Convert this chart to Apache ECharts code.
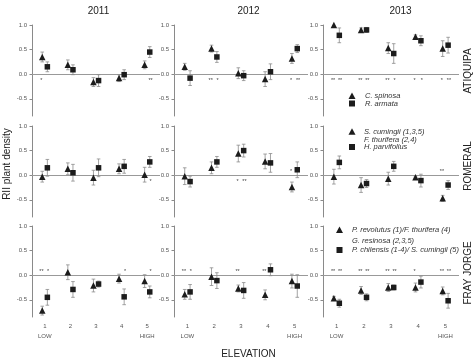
<!DOCTYPE html>
<html><head><meta charset="utf-8">
<script src="https://cdn.jsdelivr.net/npm/echarts@6/dist/echarts.min.js"></script>
<style>html,body{margin:0;padding:0;background:#fff}#c{width:474px;height:361px}</style>
</head><body><div id="c"></div>
<script>
// ---------- data ----------
const elevations = [1, 2, 3, 4, 5];
const years = ['2011', '2012', '2013'];
const sites = ['ATIQUIPA', 'ROMERAL', 'FRAY JORGE'];
const yTicks = [-0.5, 0, 0.5, 1.0];

// Atiquipa
const atq2011Tri = [0.35, 0.19, -0.16, -0.08, 0.19];
const atq2011TriErr = [0.10, 0.10, 0.09, 0.07, 0.08];
const atq2011Sq = [0.15, 0.09, -0.13, -0.01, 0.45];
const atq2011SqErr = [0.10, 0.10, 0.12, 0.10, 0.11];
const atq2011TriSig = ['*', '', '', '', ''];
const atq2011SqSig = ['', '', '', '', '**'];

const atq2012Tri = [0.15, 0.52, 0.02, -0.10, 0.32];
const atq2012TriErr = [0.07, 0.07, 0.11, 0.15, 0.10];
const atq2012Sq = [-0.08, 0.35, -0.03, 0.05, 0.52];
const atq2012SqErr = [0.15, 0.11, 0.10, 0.16, 0.08];
const atq2012TriSig = ['', '**', '', '', '*'];
const atq2012SqSig = ['', '*', '', '', '**'];

const atq2013Tri = [1.0, 0.90, 0.53, 0.76, 0.52];
const atq2013TriErr = [0.0, 0.04, 0.11, 0.04, 0.16];
const atq2013Sq = [0.79, 0.90, 0.42, 0.68, 0.59];
const atq2013SqErr = [0.15, 0.05, 0.20, 0.10, 0.16];
const atq2013TriSig = ['**', '**', '**', '*', '*'];
const atq2013SqSig = ['**', '**', '*', '*', '**'];

// Romeral
const rom2011Tri = [-0.03, 0.13, -0.05, 0.13, 0.01];
const rom2011TriErr = [0.11, 0.12, 0.15, 0.10, 0.15];
const rom2011Sq = [0.15, 0.05, 0.15, 0.18, 0.27];
const rom2011SqErr = [0.17, 0.17, 0.18, 0.14, 0.11];
const rom2011TriSig = ['', '', '', '', ''];
const rom2011SqSig = ['', '', '', '', '*'];

const rom2012Tri = [-0.02, 0.15, 0.44, 0.28, -0.24];
const rom2012TriErr = [0.17, 0.12, 0.17, 0.15, 0.10];
const rom2012Sq = [-0.13, 0.27, 0.50, 0.25, 0.11];
const rom2012SqErr = [0.11, 0.11, 0.13, 0.19, 0.16];
const rom2012TriSig = ['', '', '*', '', '*'];
const rom2012SqSig = ['', '', '**', '', ''];

const rom2013Tri = [-0.03, -0.20, -0.07, -0.04, -0.47];
const rom2013TriErr = [0.15, 0.15, 0.13, 0.02, 0.06];
const rom2013Sq = [0.26, -0.17, 0.18, -0.11, -0.20];
const rom2013SqErr = [0.13, 0.08, 0.10, 0.13, 0.09];
const rom2013TriSig = ['', '', '', '', '**'];
const rom2013SqSig = ['', '', '', '', ''];

// Fray Jorge
const fj2011Tri = [-0.72, 0.06, -0.21, -0.07, -0.12];
const fj2011TriErr = [0.09, 0.15, 0.13, 0.09, 0.13];
const fj2011Sq = [-0.45, -0.29, -0.18, -0.44, -0.34];
const fj2011SqErr = [0.16, 0.16, 0.06, 0.16, 0.12];
const fj2011TriSig = ['**', '', '', '', ''];
const fj2011SqSig = ['*', '', '', '*', '*'];

const fj2012Tri = [-0.39, -0.03, -0.27, -0.40, -0.12];
const fj2012TriErr = [0.10, 0.18, 0.07, 0.10, 0.14];
const fj2012Sq = [-0.34, -0.11, -0.31, 0.11, -0.22];
const fj2012SqErr = [0.15, 0.16, 0.16, 0.12, 0.23];
const fj2012TriSig = ['**', '', '**', '**', ''];
const fj2012SqSig = ['*', '', '', '', ''];

const fj2013Tri = [-0.47, -0.31, -0.25, -0.25, -0.32];
const fj2013TriErr = [0.04, 0.08, 0.08, 0.09, 0.08];
const fj2013Sq = [-0.57, -0.45, -0.25, -0.14, -0.52];
const fj2013SqErr = [0.08, 0.07, 0.05, 0.12, 0.15];
const fj2013TriSig = ['**', '**', '**', '*', '**'];
const fj2013SqSig = ['**', '**', '**', '', '**'];

const legendAtiquipa = [['tri', 'C. spinosa'], ['sq', 'R. armata']];
const legendRomeral = [['tri', 'S. cumingii (1,3,5)'], ['', 'F. thurifera (2,4)'], ['sq', 'H. parvifolius']];
const legendFray = [['tri', 'P. revolutus (1)/F. thurifera (4)'], ['', 'G. resinosa (2,3,5)'], ['sq', 'P. chilensis (1-4)/ S. cumingii (5)']];

// ---------- layout ----------
const panels = [
  [atq2011Tri, atq2011TriErr, atq2011Sq, atq2011SqErr, atq2011TriSig, atq2011SqSig],
  [atq2012Tri, atq2012TriErr, atq2012Sq, atq2012SqErr, atq2012TriSig, atq2012SqSig],
  [atq2013Tri, atq2013TriErr, atq2013Sq, atq2013SqErr, atq2013TriSig, atq2013SqSig],
  [rom2011Tri, rom2011TriErr, rom2011Sq, rom2011SqErr, rom2011TriSig, rom2011SqSig],
  [rom2012Tri, rom2012TriErr, rom2012Sq, rom2012SqErr, rom2012TriSig, rom2012SqSig],
  [rom2013Tri, rom2013TriErr, rom2013Sq, rom2013SqErr, rom2013TriSig, rom2013SqSig],
  [fj2011Tri, fj2011TriErr, fj2011Sq, fj2011SqErr, fj2011TriSig, fj2011SqSig],
  [fj2012Tri, fj2012TriErr, fj2012Sq, fj2012SqErr, fj2012TriSig, fj2012SqSig],
  [fj2013Tri, fj2013TriErr, fj2013Sq, fj2013SqErr, fj2013TriSig, fj2013SqSig]
];
const colLeft = [32, 174, 323];
const colWidth = [128, 134, 136];
const rowTop = [25, 126, 226];
const rowHeight = 91;
const OFF = 0.1;
const FONT = 'Liberation Sans';
const markColor = '#1c1c1c';
const errColor = '#8c8c8c';

const grids = [], xAxes = [], yAxes = [], series = [];

function errRender(params, api) {
  const x = api.value(0), y = api.value(1), e = api.value(2);
  if (!e) return null;
  const t = api.coord([x, y + e]), b = api.coord([x, y - e]);
  const cw = 1.8;
  const style = { stroke: errColor, lineWidth: 0.8, fill: null };
  return { type: 'group', children: [
    { type: 'line', shape: { x1: t[0], y1: t[1], x2: b[0], y2: b[1] }, style },
    { type: 'line', shape: { x1: t[0] - cw, y1: t[1], x2: t[0] + cw, y2: t[1] }, style },
    { type: 'line', shape: { x1: b[0] - cw, y1: b[1], x2: b[0] + cw, y2: b[1] }, style }
  ]};
}
function sigRenderFactory(texts, dx) {
  return function (params, api) {
    const txt = texts[params.dataIndex];
    if (!txt) return null;
    const x = api.value(0), v = api.value(1);
    const p = api.coord([x, v < 0 ? 0.1 : -0.1]);
    return { type: 'text', x: p[0] + dx, y: p[1] + 1.5,
      style: { text: txt, fontSize: 5.5, fontFamily: FONT, fill: '#444', align: 'center', verticalAlign: 'middle' } };
  };
}

panels.forEach((pd, i) => {
  const r = Math.floor(i / 3), c = i % 3;
  const [tri, triErr, sq, sqErr, triSig, sqSig] = pd;
  grids.push({ left: colLeft[c], top: rowTop[r], width: colWidth[c], height: rowHeight });
  xAxes.push({
    type: 'value', gridIndex: i, min: 0.5, max: 5.5,
    axisLine: { show: false }, axisTick: { show: false, customValues: elevations },
    splitLine: { show: false },
    axisLabel: {
      show: r === 2, customValues: elevations, fontSize: 6, fontFamily: FONT, color: '#555',
      margin: 4, lineHeight: 10,
      formatter: v => v === 1 ? '1\nLOW' : (v === 5 ? '5\nHIGH' : String(v))
    }
  });
  yAxes.push({
    type: 'value', gridIndex: i, min: -0.85, max: 1.0,
    axisLine: { show: true, lineStyle: { color: '#8a8a8a', width: 1 } },
    axisTick: { show: true, length: 2.5, customValues: yTicks, lineStyle: { color: '#8a8a8a' } },
    splitLine: { show: false },
    axisLabel: { customValues: yTicks, fontSize: 6, fontFamily: FONT, color: '#555', margin: 5,
      formatter: v => v.toFixed(1) }
  });
  const triPts = elevations.map((e, k) => [e - OFF, tri[k], triErr[k]]);
  const sqPts = elevations.map((e, k) => [e + OFF, sq[k], sqErr[k]]);
  series.push({ type: 'custom', xAxisIndex: i, yAxisIndex: i, renderItem: errRender,
    encode: { x: 0, y: 1 }, data: triPts, z: 2, silent: true, clip: false });
  series.push({ type: 'custom', xAxisIndex: i, yAxisIndex: i, renderItem: errRender,
    encode: { x: 0, y: 1 }, data: sqPts, z: 2, silent: true, clip: false });
  series.push({ type: 'scatter', xAxisIndex: i, yAxisIndex: i, symbol: 'triangle', symbolSize: 6.5,
    itemStyle: { color: markColor, opacity: 1 }, data: triPts.map(p => [p[0], p[1]]), z: 4, silent: true,
    markLine: { silent: true, symbol: 'none', label: { show: false },
      lineStyle: { color: '#999', width: 1, type: 'solid' }, data: [{ yAxis: 0 }], z: 1 } });
  series.push({ type: 'scatter', xAxisIndex: i, yAxisIndex: i, symbol: 'rect', symbolSize: 5.5,
    itemStyle: { color: markColor, opacity: 1 }, data: sqPts.map(p => [p[0], p[1]]), z: 4, silent: true });
  series.push({ type: 'custom', xAxisIndex: i, yAxisIndex: i, renderItem: sigRenderFactory(triSig, -0.8),
    encode: { x: 0, y: 1 }, data: triPts.map(p => [p[0], p[1]]), z: 3, silent: true, clip: false });
  series.push({ type: 'custom', xAxisIndex: i, yAxisIndex: i, renderItem: sigRenderFactory(sqSig, 0.8),
    encode: { x: 0, y: 1 }, data: sqPts.map(p => [p[0], p[1]]), z: 3, silent: true, clip: false });
});

// ---------- text & legends ----------
const graphic = [];
const yearX = [98.5, 248.5, 400.5];
years.forEach((y, k) => graphic.push({ type: 'text', x: yearX[k], y: 11,
  style: { text: y, fontSize: 10, fontFamily: FONT, fill: '#222', align: 'center', verticalAlign: 'middle' } }));
const siteY = [71, 166, 273];
sites.forEach((s, k) => graphic.push({ type: 'text', x: 468, y: siteY[k], rotation: Math.PI / 2,
  style: { text: s, fontSize: 10, fontFamily: FONT, fill: '#222', align: 'center', verticalAlign: 'middle' } }));
graphic.push({ type: 'text', x: 7, y: 164, rotation: Math.PI / 2,
  style: { text: 'RII plant density', fontSize: 10, fontFamily: FONT, fill: '#222', align: 'center', verticalAlign: 'middle' } });
graphic.push({ type: 'text', x: 248.5, y: 354,
  style: { text: 'ELEVATION', fontSize: 10, fontFamily: FONT, fill: '#222', align: 'center', verticalAlign: 'middle' } });

function addLegend(items, mx, tx, ys) {
  items.forEach((it, k) => {
    const y = ys[k];
    if (it[0] === 'tri') graphic.push({ type: 'polygon', shape: { points: [[mx, y - 3.5], [mx - 3.5, y + 3], [mx + 3.5, y + 3]] }, style: { fill: markColor } });
    if (it[0] === 'sq') graphic.push({ type: 'rect', shape: { x: mx - 3, y: y - 3, width: 6, height: 6 }, style: { fill: markColor } });
    graphic.push({ type: 'text', x: tx, y: y, style: { text: it[1], fontSize: 7.5, fontStyle: 'italic', fontFamily: FONT, fill: '#333', align: 'left', verticalAlign: 'middle' } });
  });
}
addLegend(legendAtiquipa, 352, 365, [96, 103.5]);
addLegend(legendRomeral, 352, 364, [131.7, 139.5, 147]);
addLegend(legendFray, 339.5, 352, [230, 240.5, 250]);

const chart = echarts.init(document.getElementById('c'), null, { renderer: 'canvas' });
chart.setOption({
  animation: false,
  backgroundColor: '#fff',
  grid: grids, xAxis: xAxes, yAxis: yAxes, series: series, graphic: graphic
});
</script>
</body></html>
